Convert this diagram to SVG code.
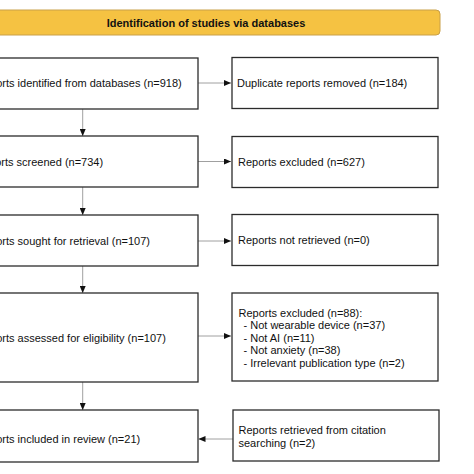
<svg xmlns="http://www.w3.org/2000/svg" width="474" height="474" viewBox="0 0 474 474">
<style>
.box{fill:#fff;stroke:#2b2b2b;stroke-width:1.3}
.t{font-family:"Liberation Sans",Arial,sans-serif;font-size:11px;fill:#111}
.h{font-family:"Liberation Sans",Arial,sans-serif;font-size:11px;font-weight:bold;fill:#111}
.c{stroke:#a0a0a0;stroke-width:1;fill:none}
</style>
<defs>
<marker id="ah" markerWidth="7" markerHeight="6" refX="7" refY="3" orient="auto" markerUnits="userSpaceOnUse">
<path d="M0,0 L7,3 L0,6 Z" fill="#111"/>
</marker>
</defs>
<rect width="474" height="474" fill="#fff"/>
<g id="header">
<rect x="-10" y="10" width="450" height="25" rx="4" fill="#F5C242" stroke="#C9A048" stroke-width="1"/>
<text class="h" x="206" y="27" text-anchor="middle">Identification of studies via databases</text>
</g>
<g id="connectors">
<line class="c" x1="198" y1="83" x2="231" y2="83" marker-end="url(#ah)"/>
<line class="c" x1="82.7" y1="109" x2="82.7" y2="136" marker-end="url(#ah)"/>
<line class="c" x1="198" y1="161.5" x2="231" y2="161.5" marker-end="url(#ah)"/>
<line class="c" x1="82.7" y1="187" x2="82.7" y2="215" marker-end="url(#ah)"/>
<line class="c" x1="198" y1="241" x2="231" y2="241" marker-end="url(#ah)"/>
<line class="c" x1="82.7" y1="266" x2="82.7" y2="293" marker-end="url(#ah)"/>
<line class="c" x1="198" y1="336" x2="231" y2="336" marker-end="url(#ah)"/>
<line class="c" x1="82.7" y1="382" x2="82.7" y2="410" marker-end="url(#ah)"/>
<line class="c" x1="233" y1="439" x2="198.5" y2="439" marker-end="url(#ah)"/>
</g>
<g id="identified">
<rect class="box" x="-30" y="58" width="228" height="51"/>
<text class="t" x="-24" y="87">Reports identified from databases (n=918)</text>
</g>
<g id="duplicates">
<rect class="box" x="232" y="57.5" width="206" height="51"/>
<text class="t" x="237" y="87">Duplicate reports removed (n=184)</text>
</g>
<g id="screened">
<rect class="box" x="-30" y="136" width="228" height="51"/>
<text class="t" x="-25" y="165.5">Reports screened (n=734)</text>
</g>
<g id="excluded1">
<rect class="box" x="232" y="136.5" width="206" height="51"/>
<text class="t" x="238" y="165.5">Reports excluded (n=627)</text>
</g>
<g id="sought">
<rect class="box" x="-30" y="215" width="228" height="51"/>
<text class="t" x="-24" y="244.5">Reports sought for retrieval (n=107)</text>
</g>
<g id="notretrieved">
<rect class="box" x="232" y="214.5" width="206" height="51"/>
<text class="t" x="238" y="244">Reports not retrieved (n=0)</text>
</g>
<g id="assessed">
<rect class="box" x="-30" y="293" width="228" height="89"/>
<text class="t" x="-24" y="342">Reports assessed for eligibility (n=107)</text>
</g>
<g id="excluded2">
<rect class="box" x="232" y="293" width="206" height="88"/>
<text class="t" x="238.5" y="316.5">Reports excluded (n=88):</text>
<text class="t" x="243.5" y="329">- Not wearable device (n=37)</text>
<text class="t" x="243.5" y="341.5">- Not AI (n=11)</text>
<text class="t" x="243.5" y="354">- Not anxiety (n=38)</text>
<text class="t" x="243.5" y="366.5">- Irrelevant publication type (n=2)</text>
</g>
<g id="included">
<rect class="box" x="-30" y="410" width="228" height="52"/>
<text class="t" x="-24" y="442.5">Reports included in review (n=21)</text>
</g>
<g id="citation">
<rect class="box" x="233" y="410" width="206" height="51"/>
<text class="t" x="238.5" y="434">Reports retrieved from citation</text>
<text class="t" x="238.5" y="447">searching (n=2)</text>
</g>
</svg>
